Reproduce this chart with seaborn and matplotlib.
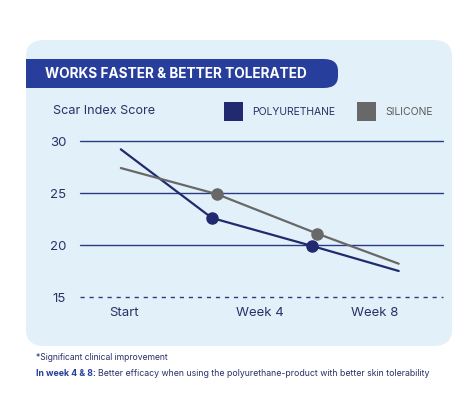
import matplotlib
matplotlib.use("Agg")
import matplotlib.pyplot as plt
import seaborn as sns
import pandas as pd
from matplotlib.patches import FancyBboxPatch

# ---- data ----
series_names = ["POLYURETHANE", "SILICONE"]
poly_x = [-0.1, 2.8, 6.0, 8.75]
poly_y = [29.2, 22.6, 19.9, 17.5]
sil_x = [-0.1, 2.95, 6.15, 8.75]
sil_y = [27.4, 24.9, 21.1, 18.2]
tick_pos = [0, 4.33, 8]
tick_labels = ["Start", "Week 4", "Week 8"]
y_ticks = [15, 20, 25, 30]

NAVY = "#212a6e"
GRAY = "#686868"
GRID = "#2b3a86"
PANEL = "#e2f0f9"
BANNER = "#283e9c"
TXT = "#2a3168"

sns.set_theme(style="white")
plt.rcParams["font.family"] = ["Inter", "DejaVu Sans"]

fig = plt.figure(figsize=(4.74, 3.95), dpi=100)
fig.patch.set_facecolor("white")

W, H = 474, 395
def fx(px): return px / W
def fy(py): return 1 - py / H

# panel background
panel = FancyBboxPatch((fx(26), fy(346)), fx(452) - fx(26), fy(40) - fy(346),
                       boxstyle="round,pad=0,rounding_size=0.04",
                       transform=fig.transFigure, facecolor=PANEL, edgecolor="none", zorder=0)
fig.patches.append(panel)
# banner
banner = FancyBboxPatch((fx(26), fy(88)), fx(338) - fx(26), fy(59) - fy(88),
                        boxstyle="round,pad=0,rounding_size=0.03",
                        transform=fig.transFigure, facecolor=BANNER, edgecolor="none", zorder=1)
fig.patches.append(banner)
fig.patches.append(plt.Rectangle((fx(26), fy(88)), 0.05, fy(59) - fy(88),
                                 transform=fig.transFigure, facecolor=BANNER, edgecolor="none", zorder=1))
fig.text(fx(45), fy(74), "WORKS FASTER & BETTER TOLERATED", color="white",
         fontsize=9.8, fontweight="bold", va="center", ha="left", zorder=2)

fig.text(fx(53), fy(111), "Scar Index Score", color=TXT, fontsize=9.1, va="center", ha="left")

# legend squares
fig.patches.append(plt.Rectangle((fx(224), fy(121)), fx(19), fy(0) - fy(19),
                                 transform=fig.transFigure, facecolor=NAVY, edgecolor="none"))
fig.text(fx(252), fy(112), series_names[0], color=TXT, fontsize=7.5, va="center", ha="left")
fig.patches.append(plt.Rectangle((fx(357), fy(121)), fx(19), fy(0) - fy(19),
                                 transform=fig.transFigure, facecolor=GRAY, edgecolor="none"))
fig.text(fx(385), fy(112), series_names[1], color="#5a5a5a", fontsize=7.5, va="center", ha="left")

# axes
ax = fig.add_axes([fx(80), fy(297), fx(443) - fx(80), fy(141) - fy(297)])
ax.set_zorder(5)
ax.patch.set_visible(False)
ax.set_xlim(-1.40, 10.16)
ax.set_ylim(15, 30)
for s in ax.spines.values():
    s.set_visible(False)

for yv in y_ticks:
    if yv == 15:
        ax.axhline(yv, color=GRID, lw=1.0, ls=(0, (3, 3.5)), clip_on=False, zorder=1)
    else:
        ax.axhline(yv, color=GRID, lw=1.0, clip_on=False, zorder=1)

df = pd.concat([
    pd.DataFrame({"x": poly_x, "y": poly_y, "s": series_names[0]}),
    pd.DataFrame({"x": sil_x, "y": sil_y, "s": series_names[1]}),
])
sns.lineplot(data=df, x="x", y="y", hue="s", palette=[NAVY, GRAY], lw=1.6,
             legend=False, ax=ax, zorder=3, sort=False)
ax.plot(poly_x[1:3], poly_y[1:3], "o", color=NAVY, ms=8, zorder=4, lw=0)
ax.plot(sil_x[1:3], sil_y[1:3], "o", color=GRAY, ms=8, zorder=4, lw=0)

ax.set_xticks(tick_pos)
ax.set_xticklabels(tick_labels, color=TXT, fontsize=9.5)
ax.set_yticks(y_ticks)
ax.set_yticklabels([str(v) for v in y_ticks], color=TXT, fontsize=9.5)
ax.tick_params(axis="x", length=0, pad=7)
ax.tick_params(axis="y", length=0, pad=10)
ax.set_xlabel("")
ax.set_ylabel("")

# footnotes
fig.text(fx(36), fy(358), "*Significant clinical improvement", color=TXT, fontsize=6.2,
         va="center", ha="left")
t1 = fig.text(fx(36), fy(374), "In week 4 & 8:", color="#283e9c", fontsize=6.35,
              fontweight="bold", va="center", ha="left")
fig.canvas.draw()
bb = t1.get_window_extent()
fig.text(bb.x1 / W + 0.005, fy(374),
         "Better efficacy when using the polyurethane-product with better skin tolerability",
         color=TXT, fontsize=6.3, va="center", ha="left")

fig.savefig("out.png", dpi=100, facecolor="white")
